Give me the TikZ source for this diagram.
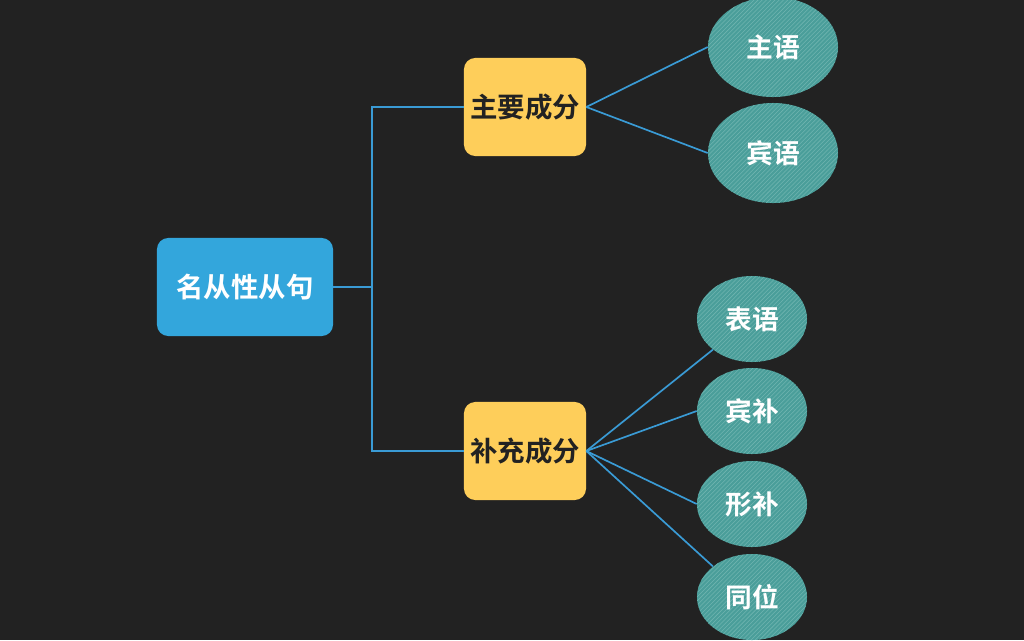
\documentclass[tikz,border=0pt]{standalone}
\usepackage{fontspec}
\newfontfamily\cjk{Noto Sans CJK SC}[BoldFont={Noto Sans CJK SC Bold}]
\usetikzlibrary{patterns,shapes.geometric}
\definecolor{bg}{HTML}{222222}
\definecolor{rootblue}{HTML}{33A6DC}
\definecolor{boxyellow}{HTML}{FECE5A}
\definecolor{leafteal}{HTML}{4A9E9A}
\definecolor{hatch}{HTML}{6FB5B0}
\definecolor{linkblue}{HTML}{3A9BD5}
\tikzset{
	root/.style={
		rectangle,
		rounded corners=8pt,
		fill=rootblue,
		minimum width=4.4cm,
		minimum height=2.45cm,
		text=white,
		font=\cjk\bfseries\fontsize{19.5}{22}\selectfont,
	},
	branch/.style={
		rectangle,
		rounded corners=8pt,
		fill=boxyellow,
		minimum width=3.05cm,
		minimum height=2.45cm,
		text=bg,
		font=\cjk\bfseries\fontsize{19.5}{22}\selectfont,
	},
	leaf/.style={
		ellipse,
		fill=leafteal,
		postaction={pattern=north east lines, pattern color=hatch},
		text=white,
		font=\cjk\bfseries\fontsize{19}{22}\selectfont,
	},
	bigleaf/.style={leaf, minimum width=3.25cm, minimum height=2.5cm},
	smallleaf/.style={leaf, minimum width=2.75cm, minimum height=2.15cm},
	link/.style={
		draw=linkblue,
		line width=1.2pt,
	},
}
\begin{document}
\begin{tikzpicture}[x=0.025cm, y=-0.025cm]
		\useasboundingbox (0,0) rectangle (1024,640);
		\fill[bg] (0,0) rectangle (1024,640);

		% root
		\node[root] (root) at (245,287) {名从性从句} ;

		% branches
		\node[branch] (main) at (525,107) {主要成分} ;
		\node[branch] (extra) at (525,451) {补充成分} ;
		\coordinate (fork) at (372,287) ;

		% leaves
		\node[bigleaf] (subj) at (773,47) {主语} ;
		\node[bigleaf] (obj) at (773,153) {宾语} ;
		\node[smallleaf] (pred) at (752,319) {表语} ;
		\node[smallleaf] (objc) at (752,411) {宾补} ;
		\node[smallleaf] (adjc) at (752,504) {形补} ;
		\node[smallleaf] (appo) at (752,597) {同位} ;

		\draw[link] (root.east) -- (fork) ;
		\draw[link] (fork) |- (main.west) ;
		\draw[link] (fork) |- (extra.west) ;

		\draw[link] (main.east) -- (subj.west) ;
		\draw[link] (main.east) -- (obj.west) ;

		\draw[link] (extra.east) -- (pred.south west) ;
		\draw[link] (extra.east) -- (objc.west) ;
		\draw[link] (extra.east) -- (adjc.west) ;
		\draw[link] (extra.east) -- (appo.north west) ;
	\end{tikzpicture}
\end{document}
